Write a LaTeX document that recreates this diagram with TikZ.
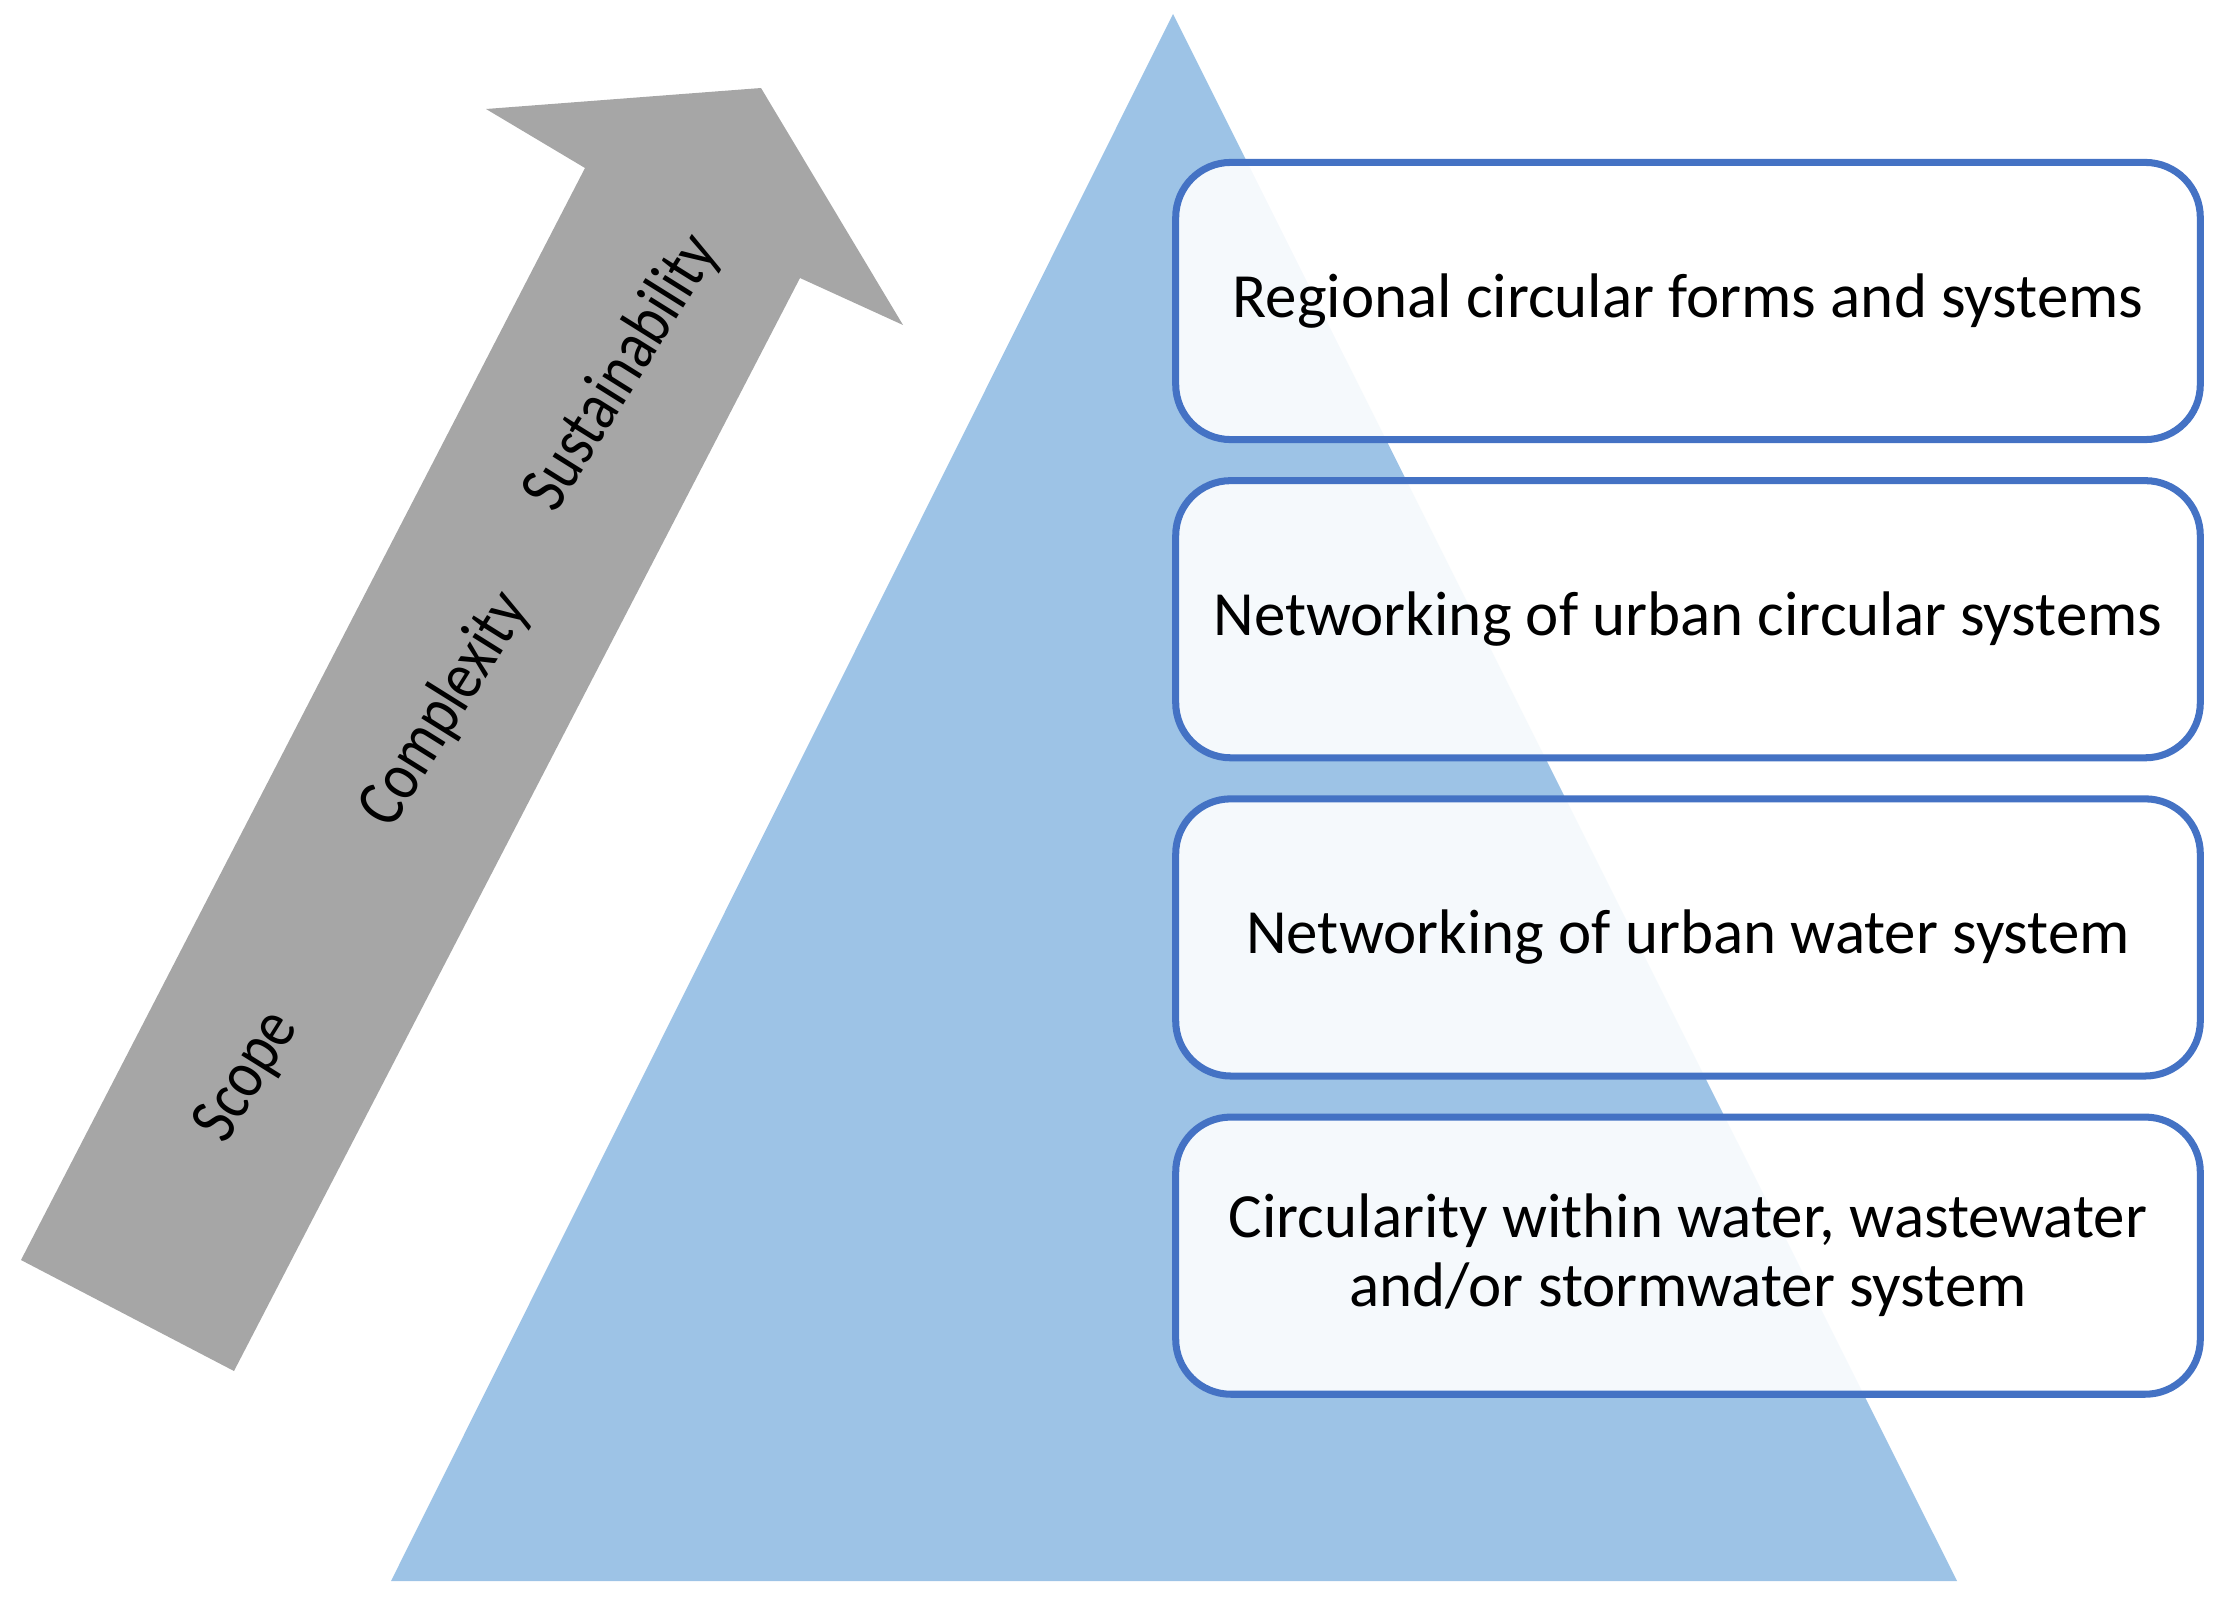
\documentclass[tikz,border=0pt]{standalone}
\usepackage{fontspec}
\setmainfont{Carlito}
\newfontfamily\narrowfont[FakeStretch=0.84]{Carlito}
\usetikzlibrary{positioning}
\definecolor{pyramidblue}{RGB}{157,195,230}
\definecolor{boxblue}{RGB}{68,114,196}
\definecolor{arrowgray}{RGB}{166,166,166}
\tikzset{
  levelbox/.style={draw=boxblue,line width=2pt,rounded corners=0.55cm,
    fill=white,fill opacity=0.9,text opacity=1,
    minimum width=10.24cm,minimum height=2.77cm,align=center,
    font=\fontsize{17.9}{19.6}\selectfont},
  arrowlabel/.style={rotate=58,font=\narrowfont\fontsize{19.5}{21}\selectfont},
}
\begin{document}
\begin{tikzpicture}[x=0.01cm,y=-0.01cm]
\useasboundingbox (0,0) rectangle (2227,1609);
% pyramid
\fill[pyramidblue](1173,14)--(1957,1581)--(391,1581)--cycle;
% rising arrow
\fill[arrowgray](21,1260)--(585,168)--(486,109)--(761,88)
  --(903,325)--(800,278)--(234,1371)--cycle;
\node[arrowlabel] (scope) at (248,1077) {Scope};
\node[arrowlabel] (complexity) at (445,710) {Complexity};
\node[arrowlabel] (sustain) at (622,373) {Sustainability};
% levels
\node[levelbox] (regional) at (1688,301) {Regional circular forms and systems};
\node[levelbox,below=0.34cm of regional] (urbancirc)
  {Networking of urban circular systems};
\node[levelbox,below=0.34cm of urbancirc] (urbanwater)
  {Networking of urban water system};
\node[levelbox,below=0.34cm of urbanwater] (within)
  {Circularity within water, wastewater\\and/or stormwater system};
\end{tikzpicture}
\end{document}
